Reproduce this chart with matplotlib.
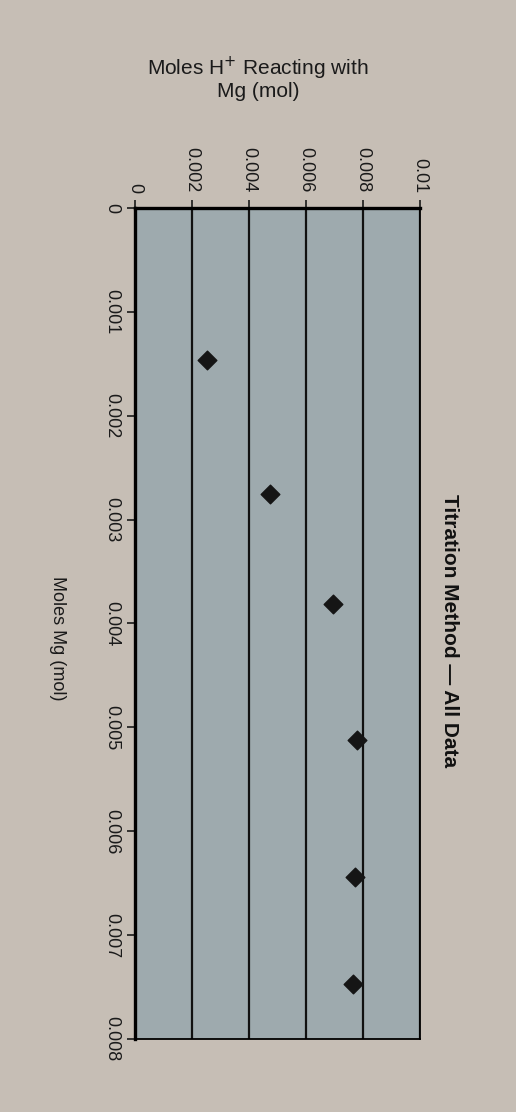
import matplotlib
matplotlib.use("Agg")
import matplotlib.pyplot as plt

plt.rcParams['font.family'] = ['Liberation Sans', 'DejaVu Sans']

moles_mg = [0.00146, 0.00275, 0.00381, 0.00512, 0.00644, 0.00747]
moles_h = [0.00253, 0.00474, 0.00695, 0.00779, 0.00772, 0.00765]
mg_ticks = [0, 0.001, 0.002, 0.003, 0.004, 0.005, 0.006, 0.007, 0.008]
mg_labels = ["0", "0.001", "0.002", "0.003", "0.004", "0.005", "0.006", "0.007", "0.008"]
h_ticks = [0, 0.002, 0.004, 0.006, 0.008, 0.01]
h_labels = ["0", "0.002", "0.004", "0.006", "0.008", "0.01"]

fig = plt.figure(figsize=(5.16, 11.12), dpi=100, facecolor="#c6beb5")
ax = fig.add_axes([0.262, 0.0656, 0.552, 0.7474])
ax.set_facecolor("#9eaaae")
ax.set_xlim(0, 0.01)
ax.set_ylim(0.008, 0)
for v in h_ticks[1:]:
    ax.axvline(v, color="#111111", lw=1.6, zorder=1)
ax.scatter(moles_h, moles_mg, marker="D", s=90, color="#151515", zorder=3)
ax.xaxis.tick_top()
ax.set_xticks(h_ticks)
ax.set_xticklabels(h_labels, rotation=-90, fontsize=13, color="#1a1a1a")
ax.set_yticks(mg_ticks)
ax.set_yticklabels(mg_labels, rotation=-90, fontsize=13, color="#1a1a1a", va="center")
ax.tick_params(axis="both", direction="out", length=6, width=1.2, colors="#1a1a1a", pad=5)
for s in ["left", "top"]:
    ax.spines[s].set_linewidth(2.4)
for s in ["right", "bottom"]:
    ax.spines[s].set_linewidth(1.3)
fig.text(0.5, 0.930, "Moles H$^{+}$ Reacting with\nMg (mol)", ha="center", va="center",
         fontsize=15, color="#1a1a1a", linespacing=1.05)
fig.text(0.872, 0.433, "Titration Method — All Data", rotation=-90, ha="center", va="center",
         fontsize=15, fontweight="bold", color="#111111", family=["Liberation Sans Narrow", "Liberation Sans"])
fig.text(0.112, 0.426, "Moles Mg (mol)", rotation=-90, ha="center", va="center",
         fontsize=13, color="#1a1a1a")
fig.savefig("out.png", dpi=100, facecolor=fig.get_facecolor())
